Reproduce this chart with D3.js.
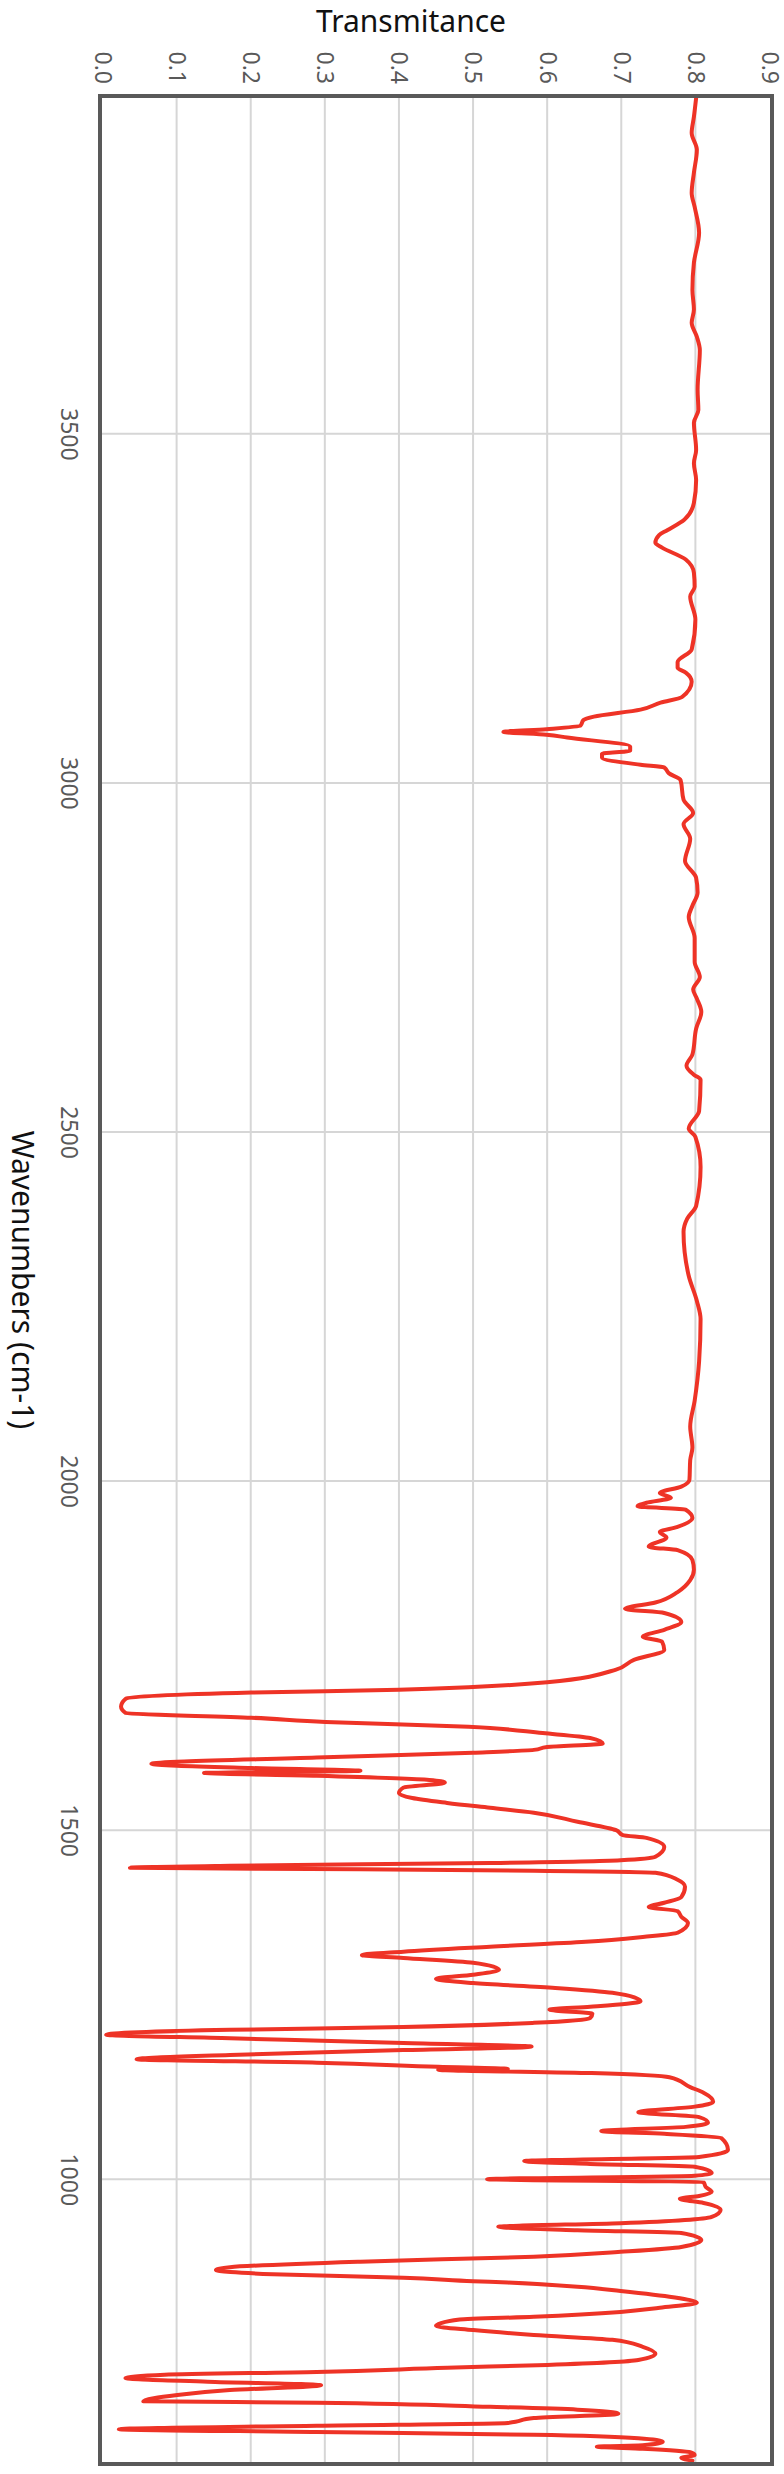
<!DOCTYPE html>
<html>
<head>
<meta charset="utf-8">
<script src="https://cdn.jsdelivr.net/npm/d3@7"></script>
<style>
  html, body { margin: 0; padding: 0; background: #ffffff; }
  svg { display: block; }
</style>
</head>
<body>
<script>
// ---- data ----
const wavenumbers = [
  3981, 3954, 3931, 3907, 3874, 3845, 3825, 3788, 3745, 3706, 3678, 3659, 3639, 3620, 3563, 3534, 3516, 3477, 3458, 3434,
  3401, 3377, 3362, 3355, 3344, 3337, 3320, 3301, 3281, 3267, 3234, 3191, 3173, 3165, 3158, 3145, 3123, 3115, 3105, 3095,
  3090, 3082, 3077, 3073, 3069, 3065, 3052, 3046, 3042, 3036, 3026, 3022, 3014, 3004, 2976, 2957, 2941, 2920, 2888, 2864,
  2843, 2824, 2808, 2778, 2744, 2722, 2704, 2691, 2672, 2648, 2611, 2595, 2582, 2575, 2530, 2505, 2493, 2450, 2394, 2376,
  2357, 2294, 2258, 2232, 2171, 2115, 2078, 2048, 2030, 2002, 1992, 1983, 1976, 1969, 1964, 1959, 1947, 1934, 1927, 1919,
  1906, 1901, 1887, 1873, 1858, 1841, 1826, 1817, 1811, 1798, 1787, 1777, 1770, 1758, 1744, 1730, 1712, 1705, 1701, 1697,
  1688, 1677, 1668, 1661, 1655, 1648, 1639, 1632, 1624, 1619, 1615, 1611, 1604, 1595, 1589, 1585, 1582, 1578, 1572, 1568,
  1561, 1553, 1546, 1539, 1532, 1525, 1512, 1500, 1493, 1489, 1476, 1462, 1457, 1453, 1449, 1446, 1444, 1442, 1439, 1429,
  1419, 1404, 1396, 1390, 1384, 1376, 1367, 1353, 1347, 1340, 1333, 1326, 1321, 1317, 1310, 1300, 1293, 1287, 1281, 1274,
  1267, 1255, 1247, 1243, 1237, 1231, 1224, 1218, 1214, 1207, 1202, 1195, 1190, 1185, 1178, 1172, 1167, 1161, 1158, 1157,
  1152, 1146, 1132, 1124, 1111, 1104, 1096, 1089, 1081, 1075, 1069, 1065, 1059, 1042, 1032, 1026, 1022, 1018, 1009, 1005,
  1000, 996, 989, 982, 976, 972, 966, 956, 946, 937, 932, 927, 923, 913, 903, 896, 889, 882, 874, 870,
  864, 859, 854, 852, 846, 840, 831, 823, 816, 810, 803, 799, 790, 784, 777, 770, 760, 750, 741, 734,
  730, 724, 720, 715, 710, 705, 698, 691, 682, 680, 674, 670, 664, 658, 651, 647, 642, 638, 634, 629,
  624, 619, 617, 614, 609, 605, 601, 597
];
const transmittance = [
  0.801, 0.798, 0.795, 0.802, 0.798, 0.795, 0.799, 0.805, 0.798, 0.796, 0.798, 0.795, 0.802, 0.806, 0.803, 0.804, 0.798, 0.801, 0.798, 0.801,
  0.798, 0.785, 0.762, 0.751, 0.746, 0.755, 0.787, 0.798, 0.799, 0.793, 0.800, 0.795, 0.776, 0.776, 0.787, 0.795, 0.782, 0.753, 0.726, 0.663,
  0.649, 0.645, 0.599, 0.541, 0.599, 0.627, 0.712, 0.712, 0.674, 0.674, 0.726, 0.758, 0.764, 0.780, 0.784, 0.797, 0.784, 0.793, 0.786, 0.801,
  0.803, 0.796, 0.791, 0.799, 0.799, 0.806, 0.797, 0.802, 0.808, 0.801, 0.796, 0.788, 0.798, 0.807, 0.805, 0.791, 0.800, 0.807, 0.801, 0.789,
  0.784, 0.791, 0.802, 0.807, 0.805, 0.799, 0.793, 0.796, 0.793, 0.792, 0.781, 0.752, 0.767, 0.734, 0.722, 0.787, 0.796, 0.775, 0.752, 0.761,
  0.737, 0.776, 0.796, 0.798, 0.793, 0.776, 0.746, 0.705, 0.758, 0.781, 0.758, 0.729, 0.755, 0.758, 0.717, 0.693, 0.600, 0.500, 0.400, 0.201,
  0.031, 0.025, 0.031, 0.201, 0.301, 0.494, 0.594, 0.658, 0.675, 0.600, 0.582, 0.500, 0.289, 0.066, 0.201, 0.348, 0.137, 0.289, 0.441, 0.462,
  0.406, 0.400, 0.418, 0.465, 0.523, 0.582, 0.641, 0.693, 0.702, 0.734, 0.758, 0.746, 0.699, 0.523, 0.172, 0.037, 0.348, 0.582, 0.746, 0.776,
  0.786, 0.781, 0.758, 0.737, 0.776, 0.781, 0.790, 0.776, 0.729, 0.652, 0.523, 0.406, 0.350, 0.406, 0.500, 0.535, 0.500, 0.450, 0.500, 0.611,
  0.688, 0.726, 0.658, 0.603, 0.661, 0.658, 0.582, 0.406, 0.172, 0.005, 0.172, 0.406, 0.579, 0.406, 0.172, 0.046, 0.289, 0.453, 0.547, 0.453,
  0.660, 0.765, 0.793, 0.811, 0.824, 0.799, 0.723, 0.805, 0.817, 0.787, 0.673, 0.758, 0.835, 0.844, 0.805, 0.569, 0.658, 0.799, 0.822, 0.799,
  0.519, 0.811, 0.814, 0.822, 0.805, 0.779, 0.811, 0.834, 0.822, 0.699, 0.534, 0.641, 0.781, 0.808, 0.781, 0.699, 0.582, 0.348, 0.172, 0.153,
  0.230, 0.406, 0.500, 0.547, 0.641, 0.699, 0.770, 0.802, 0.752, 0.699, 0.582, 0.482, 0.450, 0.500, 0.582, 0.688, 0.729, 0.746, 0.723, 0.600,
  0.465, 0.289, 0.084, 0.031, 0.142, 0.295, 0.172, 0.101, 0.055, 0.289, 0.523, 0.641, 0.696, 0.582, 0.547, 0.289, 0.022, 0.289, 0.582, 0.723,
  0.756, 0.729, 0.667, 0.729, 0.793, 0.799, 0.781, 0.796
];
const transTicks = [0.0, 0.1, 0.2, 0.3, 0.4, 0.5, 0.6, 0.7, 0.8, 0.9];
const waveTicks = [3500, 3000, 2500, 2000, 1500, 1000];
const transTitle = "Transmitance";
const waveTitle = "Wavenumbers (cm-1)";

// ---- layout ----
const W = 784, H = 2474;
const frame = { left: 100, top: 96, right: 772, bottom: 2464 };

const svg = d3.select("body").append("svg")
  .attr("width", W).attr("height", H)
  .attr("font-family", "'Noto Sans', 'Open Sans', sans-serif");

const x = d3.scaleLinear().domain([0, 0.9]).range([102.5, 769.5]);
const y = d3.scaleLinear().domain([3981, 595]).range([98, 2462]);

// grid
const grid = svg.append("g").attr("stroke", "#d6d6d6").attr("stroke-width", 2);
grid.selectAll("line.v").data(transTicks.filter(d => d > 0 && d < 0.9)).join("line")
  .attr("class", "v")
  .attr("x1", d => x(d)).attr("x2", d => x(d))
  .attr("y1", frame.top).attr("y2", frame.bottom);
grid.selectAll("line.h").data(waveTicks).join("line")
  .attr("class", "h")
  .attr("y1", d => y(d)).attr("y2", d => y(d))
  .attr("x1", frame.left).attr("x2", frame.right);

// spectrum
const data = wavenumbers.map((w, i) => ({ w, t: transmittance[i] }));
const line = d3.line()
  .x(d => x(d.t))
  .y(d => y(d.w))
  .curve(d3.curveMonotoneY);
svg.append("path")
  .datum(data)
  .attr("d", line)
  .attr("fill", "none")
  .attr("stroke", "#ee3326")
  .attr("stroke-width", 4)
  .attr("stroke-linejoin", "round")
  .attr("stroke-linecap", "round");

// frame
svg.append("rect")
  .attr("x", frame.left).attr("y", frame.top)
  .attr("width", frame.right - frame.left)
  .attr("height", frame.bottom - frame.top)
  .attr("fill", "none")
  .attr("stroke", "#595959")
  .attr("stroke-width", 4);

// transmittance axis (top), rotated labels
const axT = svg.append("g")
  .attr("transform", `translate(0,84)`)
  .call(d3.axisTop(x).tickValues(transTicks).tickFormat(d3.format(".1f")).tickSize(0));
axT.select(".domain").remove();
axT.selectAll("text")
  .attr("x", 0).attr("y", 0).attr("dy", "0.35em")
  .attr("text-anchor", "end")
  .attr("transform", "rotate(90)")
  .attr("fill", "#595959")
  .attr("font-size", 23)
  .attr("font-family", "'Noto Sans', sans-serif");

// wavenumber axis (left), rotated labels
const axW = svg.append("g")
  .attr("transform", `translate(61,0)`)
  .call(d3.axisLeft(y).tickValues(waveTicks).tickFormat(d3.format("d")).tickSize(0));
axW.select(".domain").remove();
axW.selectAll("text")
  .attr("x", 0).attr("y", 0).attr("dy", 0)
  .attr("text-anchor", "middle")
  .attr("transform", "rotate(90)")
  .attr("fill", "#595959")
  .attr("font-size", 23)
  .attr("font-family", "'Noto Sans', sans-serif");

// titles
svg.append("text")
  .attr("x", 411).attr("y", 32)
  .attr("text-anchor", "middle")
  .attr("font-size", 30)
  .attr("fill", "#111")
  .text(transTitle);

svg.append("text")
  .attr("transform", `translate(12,${(frame.top + frame.bottom) / 2}) rotate(90)`)
  .attr("text-anchor", "middle")
  .attr("font-size", 30)
  .attr("fill", "#111")
  .text(waveTitle);
</script>
</body>
</html>
